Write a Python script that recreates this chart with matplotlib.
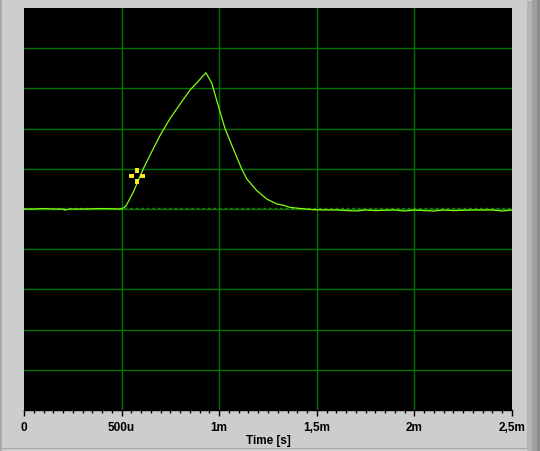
import matplotlib
matplotlib.use("Agg")
import matplotlib.pyplot as plt
from matplotlib.path import Path
from matplotlib.patches import Rectangle
from matplotlib.ticker import MultipleLocator

# ---- data (time in ms, amplitude in screen divisions) ----
time_ms = [0.00, 0.05, 0.10, 0.15, 0.20, 0.21, 0.23, 0.30, 0.40, 0.50, 0.507,
           0.523, 0.560, 0.611, 0.654, 0.697, 0.748, 0.808, 0.851, 0.893, 0.932,
           0.962, 1.004, 1.030, 1.072, 1.115, 1.141, 1.192, 1.243, 1.295, 1.330,
           1.363, 1.420, 1.491, 1.60, 1.70, 1.75, 1.80, 1.90, 1.95, 2.00, 2.05,
           2.10, 2.15, 2.20, 2.30, 2.40, 2.45, 2.50]
signal = [0.00, 0.00, 0.01, 0.00, 0.00, -0.03, 0.00, 0.00, 0.01, 0.00, 0.02,
          0.08, 0.42, 1.00, 1.42, 1.83, 2.25, 2.67, 2.96, 3.18, 3.39,
          3.13, 2.42, 2.00, 1.50, 1.00, 0.75, 0.46, 0.25, 0.125, 0.09,
          0.04, 0.01, -0.02, -0.025, -0.05, -0.025, -0.04, -0.025, -0.05, -0.025, -0.04,
          -0.05, -0.025, -0.04, -0.025, -0.025, -0.05, -0.025]
ref_level = 0.03
cursor_t = [0.579]
cursor_v = [0.83]

x_ticks = [0.0, 0.5, 1.0, 1.5, 2.0, 2.5]
x_tick_labels = ["0", "500u", "1m", "1,5m", "2m", "2,5m"]
x_label = "Time [s]"

W, H = 540, 452
fig = plt.figure(figsize=(W / 100, H / 100), dpi=100)
fig.patch.set_facecolor("#cdcdcd")

# bevel strips
def frect(x0, y0, x1, y1, c):
    fig.patches.append(Rectangle((x0 / W, 1 - y1 / H), (x1 - x0) / W, (y1 - y0) / H,
                                 transform=fig.transFigure, facecolor=c, edgecolor="none", zorder=0))
frect(0, 0, 1.5, H, "#a8a8a8")
frect(527, 2, 532, H, "#b4b4b4")
frect(532, 1, 537, H, "#a0a0a0")
frect(537, 0, 540, H, "#8c8c8c")
frect(0, 448.5, 527, 450, "#a8a8a8")

ax = fig.add_axes([24 / W, 1 - 411 / H, 488 / W, 402 / H])
ax.set_facecolor("black")
ax.set_xlim(0, 2.5)
ax.set_ylim(-5, 5)

grid_c = "#007400"
for gx in [0.5, 1.0, 1.5, 2.0]:
    ax.axvline(gx, color=grid_c, lw=1.0, zorder=1)
for gy in range(-4, 5):
    ax.axhline(gy, color=grid_c, lw=1.0, zorder=1)

ax.axhline(ref_level, color="#2f7a00", lw=1.0, ls=(0, (2, 2)), zorder=2)
ax.plot(time_ms, signal, color="#84ff10", lw=0.9, zorder=3)

seg = Path([(0, 0.35), (0, 1), (0, -0.35), (0, -1), (0.35, 0), (1, 0), (-0.35, 0), (-1, 0)],
           [Path.MOVETO, Path.LINETO] * 4)
ax.plot(cursor_t, cursor_v, ls="none", marker=seg, markersize=12,
        markeredgewidth=2.8, markeredgecolor="#ffee22", zorder=4)

for s in ["left", "right", "top"]:
    ax.spines[s].set_visible(False)
ax.spines["bottom"].set_color("black")
ax.spines["bottom"].set_linewidth(1.0)
ax.set_yticks([])
ax.set_xticks(x_ticks)
ax.set_xticklabels(x_tick_labels)
ax.xaxis.set_minor_locator(MultipleLocator(0.05))
ax.tick_params(axis="x", which="major", direction="out", length=4, width=1,
               color="black", pad=4)
ax.tick_params(axis="x", which="minor", direction="out", length=2.5, width=1,
               color="black")
for lbl in ax.get_xticklabels():
    lbl.set_fontfamily("Liberation Sans")
    lbl.set_fontweight("bold")
    lbl.set_fontsize(8.5)
ax.set_xlabel(x_label, fontfamily="Liberation Sans", fontweight="bold",
              fontsize=8.5, labelpad=1)

fig.savefig("out.png", dpi=100, facecolor=fig.get_facecolor())
